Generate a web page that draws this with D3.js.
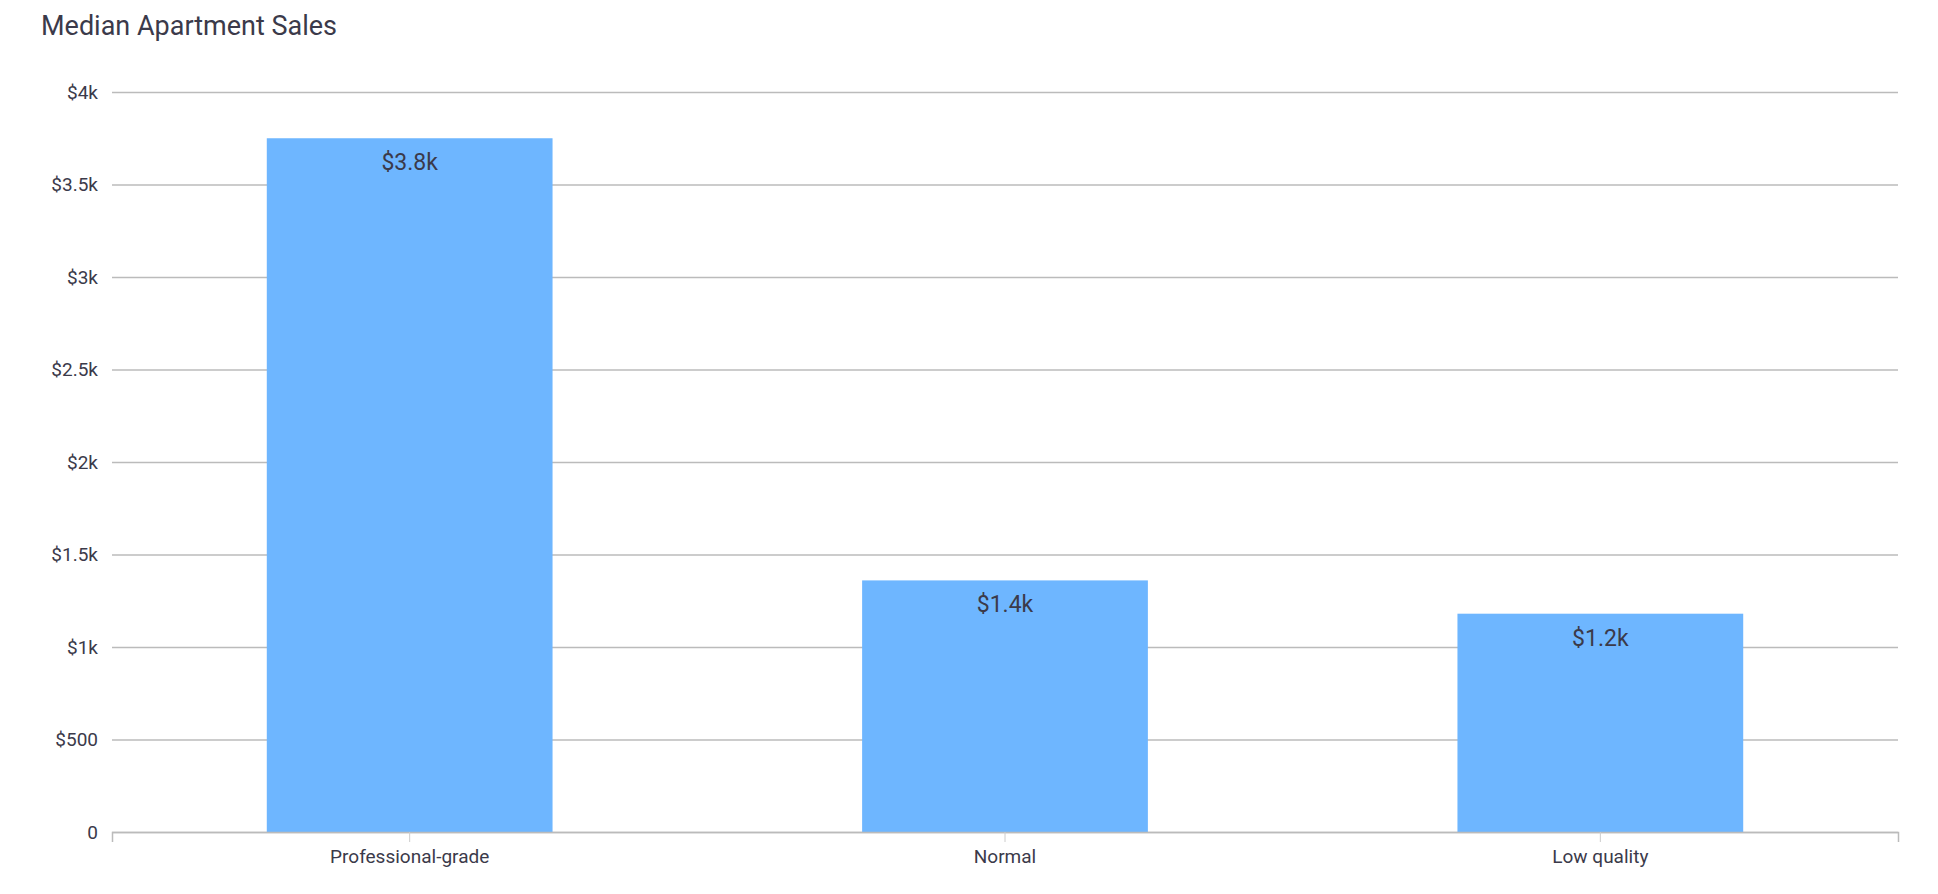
<!DOCTYPE html>
<html>
<head>
<meta charset="utf-8">
<script src="https://cdn.jsdelivr.net/npm/d3@7"></script>
<style>
  body { margin: 0; background: #fff; font-family: "Roboto", "Noto Sans", sans-serif; }
</style>
</head>
<body>
<div id="chart"></div>
<script>
const categories = ["Professional-grade", "Normal", "Low quality"];
const values = [3750, 1360, 1180];
const valueLabels = ["$3.8k", "$1.4k", "$1.2k"];
const yTicks = [0, 500, 1000, 1500, 2000, 2500, 3000, 3500, 4000];
const yTickLabels = ["0", "$500", "$1k", "$1.5k", "$2k", "$2.5k", "$3k", "$3.5k", "$4k"];

const W = 1938, H = 894;
const margin = { top: 92, right: 40, bottom: 62, left: 112 };
const width = W - margin.left - margin.right;
const height = H - margin.top - margin.bottom;
const textColor = "#3b3a4a";

const svg = d3.select("#chart").append("svg")
  .attr("width", W).attr("height", H);

svg.append("text")
  .attr("x", 41).attr("y", 35)
  .style("font-size", "27px")
  .style("fill", textColor)
  .text("Median Apartment Sales");

const g = svg.append("g").attr("transform", `translate(${margin.left},${margin.top})`);

const x = d3.scaleBand().domain(categories).range([0, width]).paddingInner(0.52).paddingOuter(0.26);
const y = d3.scaleLinear().domain([0, 4000]).range([height, 0]);

// gridlines + y labels
const yAxis = g.append("g")
  .call(d3.axisLeft(y).tickValues(yTicks).tickSize(-width).tickPadding(14)
    .tickFormat((d, i) => yTickLabels[i]));
yAxis.select(".domain").remove();
yAxis.selectAll("line").attr("stroke", "#bbbbbb").attr("stroke-width", 1.5);
yAxis.selectAll("text").style("font-size", "19px").style("fill", textColor).style("font-family", "Roboto");

// bars
g.selectAll("rect.bar").data(values).enter().append("rect")
  .attr("class", "bar")
  .attr("x", (d, i) => x(categories[i]))
  .attr("y", d => y(d))
  .attr("width", x.bandwidth())
  .attr("height", d => height - y(d))
  .attr("fill", "#6eb6ff");

// value labels
g.selectAll("text.val").data(values).enter().append("text")
  .attr("class", "val")
  .attr("x", (d, i) => x(categories[i]) + x.bandwidth() / 2)
  .attr("y", d => y(d) + 32)
  .attr("text-anchor", "middle")
  .style("font-size", "23px")
  .style("fill", textColor)
  .text((d, i) => valueLabels[i]);

// x axis
const xAxis = g.append("g").attr("transform", `translate(0,${height})`)
  .call(d3.axisBottom(x).tickSize(10).tickPadding(8));
xAxis.select(".domain").attr("stroke", "#bbbbbb").attr("stroke-width", 1.5);
xAxis.selectAll("line").attr("stroke", "#cccccc");
xAxis.selectAll("text").style("font-size", "19px").style("fill", textColor).style("font-family", "Roboto");
</script>
</body>
</html>
